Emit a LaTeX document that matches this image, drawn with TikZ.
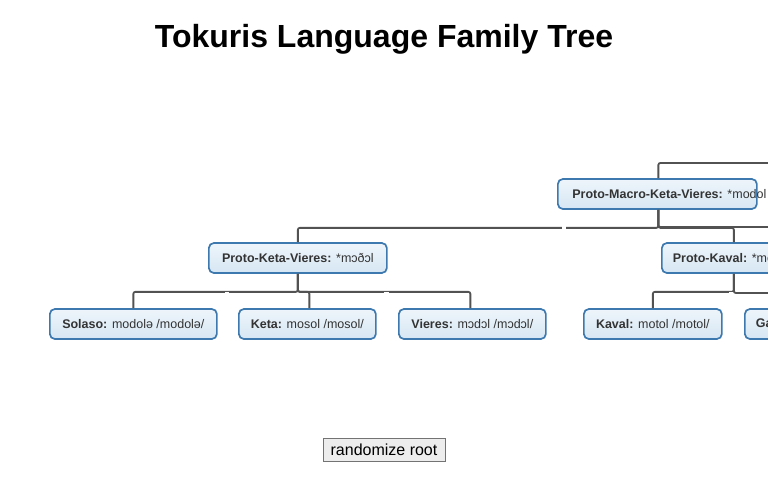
\documentclass[tikz,border=0pt]{standalone}
\usepackage{fontspec}
\setmainfont{Liberation Sans}
\begin{document}
\begin{tikzpicture}[x=1pt,y=-1pt,
  lang/.style={draw=boxblue,line width=1.7pt,rounded corners=5pt,top color=boxtop,bottom color=boxbot,
    minimum height=30pt,inner xsep=11pt,font=\fontsize{12.5}{14}\selectfont,text=black!80,anchor=west},
  conn/.style={draw=black!68,line width=1.8pt},
  btn/.style={draw=black!55,fill=black!7,line width=0.8pt,font=\fontsize{16}{18}\selectfont,minimum width=122pt,minimum height=23pt,inner sep=0pt}]
\definecolor{boxblue}{HTML}{3D79AE}
\definecolor{boxtop}{HTML}{EEF5FB}
\definecolor{boxbot}{HTML}{D6E6F3}
\useasboundingbox (0,0) rectangle (768,480);
\node[font=\bfseries\fontsize{32}{36}\selectfont] (title) at (384,39) {Tokuris Language Family Tree};
\begin{scope}
\clip (0,0) rectangle (768,480);
\node[lang,minimum width=199pt] (root) at (557,194) {\makebox[170pt][l]{\textbf{Proto-Macro-Keta-Vieres:} *modol}};
\node[lang,minimum width=178pt] (pkv) at (208,258) {\textbf{Proto-Keta-Vieres:} *mɔðɔl};
\node[lang,minimum width=200pt] (pk) at (661,258) {\makebox[178pt][l]{\textbf{Proto-Kaval:} *motol}};
\node[lang,minimum width=167pt] (sol) at (49,324) {\textbf{Solaso:} modolə /modolə/};
\node[lang,minimum width=137pt] (keta) at (238,324) {\textbf{Keta:} mosol /mosol/};
\node[lang,minimum width=147pt] (vie) at (398,324) {\textbf{Vieres:} mɔdɔl /mɔdɔl/};
\node[lang,minimum width=138pt] (kav) at (583,324) {\textbf{Kaval:} motol /motol/};
\node[lang,minimum width=140pt] (ga) at (744,324) {\makebox[118pt][l]{\textbf{Gatol:} gatol /gatol/}};
\coordinate (up) at (790,163);
\coordinate (rr) at (790,227);
\coordinate (kr) at (790,293);
\draw[conn,rounded corners=2pt] ([xshift=1pt]root.north) |- (up);
\draw[conn,rounded corners=2pt] ([xshift=1pt]root.south) |- (rr);
\draw[conn,rounded corners=2pt] ([xshift=1pt]root.south) -- ++(0,18) -| (pkv.north);
\draw[conn,rounded corners=2pt] ([xshift=1pt]root.south) -- ++(0,18) -| ([xshift=-28pt]pk.north);
\draw[conn,rounded corners=2pt] (pkv.south) -- ++(0,18) -| (sol.north);
\draw[conn,rounded corners=2pt] (pkv.south) -- ++(0,18) -| ([xshift=2pt]keta.north);
\draw[conn,rounded corners=2pt] (pkv.south) -- ++(0,18) -| ([xshift=-2pt]vie.north);
\draw[conn,rounded corners=2pt] ([xshift=-28pt]pk.south) -- ++(0,18) -| (kav.north);
\draw[conn,rounded corners=2pt] ([xshift=-28pt]pk.south) |- (kr);
\draw[white,line width=3pt] (562,227) -- (566,227) (225,293) -- (229,293) (384,293) -- (389,293) (729,293)--(733,293);
\end{scope}
\node[btn] (rand) at (384,449.5) {randomize root};
\end{tikzpicture}
\end{document}
